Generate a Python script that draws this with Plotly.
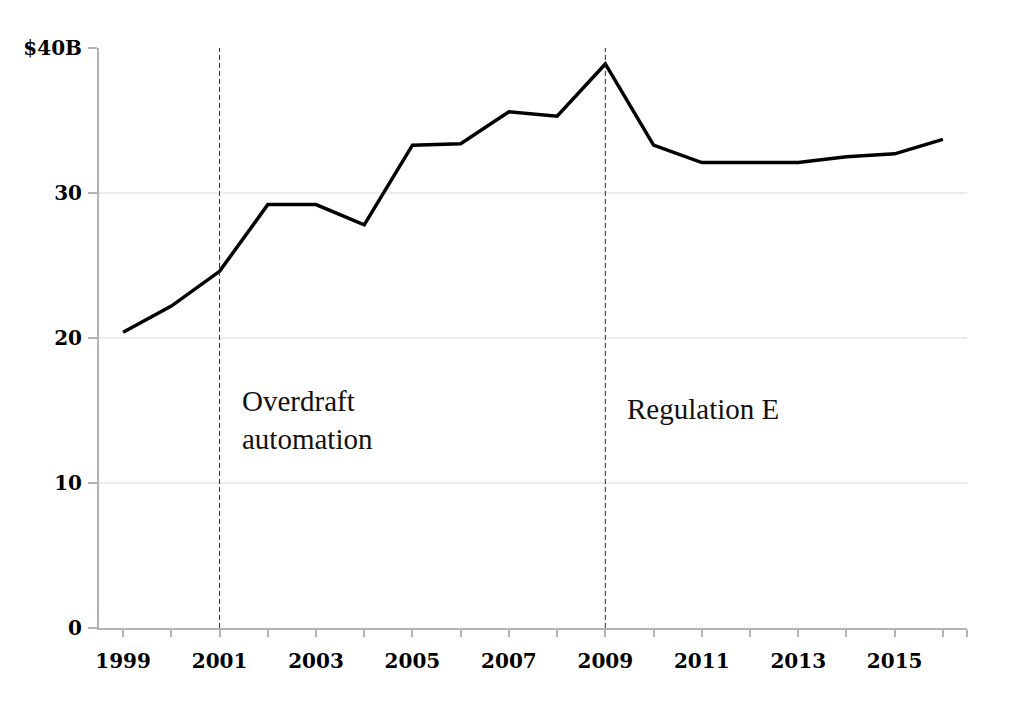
#overdraft revenue line chart
import plotly.graph_objects as go

years = [1999, 2000, 2001, 2002, 2003, 2004, 2005, 2006, 2007, 2008,
         2009, 2010, 2011, 2012, 2013, 2014, 2015, 2016]
revenue = [20.4, 22.2, 24.6, 29.2, 29.2, 27.8, 33.3, 33.4, 35.6, 35.3,
           38.9, 33.3, 32.1, 32.1, 32.1, 32.5, 32.7, 33.7]

y_ticks = [0, 10, 20, 30, 40]
y_labels = ["0", "10", "20", "30", "$40B"]
x_labels = [str(y) if y % 2 == 1 else "" for y in years]

events = [2001, 2009]
event_text = ["Overdraft<br>automation", "Regulation E"]

fig = go.Figure()
fig.add_trace(go.Scatter(x=years, y=revenue, mode='lines',
                         line=dict(color='black', width=3.5),
                         hoverinfo='skip', showlegend=False))

# dashed event markers and their labels (label heights in paper coords)
label_y = [0.422, 0.409]
for yr, txt, ly in zip(events, event_text, label_y):
    fig.add_shape(type='line', x0=yr, x1=yr, y0=0, y1=40, xref='x', yref='y',
                  line=dict(color='#2b2b2b', width=1, dash='5px,3px'))
    fig.add_annotation(x=yr, y=ly, xref='x', yref='paper', text=txt,
                       showarrow=False, xanchor='left', yanchor='top', align='left',
                       xshift=20,
                       font=dict(family='Liberation Serif', size=29, color='#111111'))

tick_font = dict(family='DejaVu Serif', size=20, color='black', weight='bold')

fig.update_layout(
    width=1024, height=721,
    margin=dict(l=91, r=65, t=40, b=101),
    plot_bgcolor='white', paper_bgcolor='white',
    xaxis=dict(range=[1998.5, 2016.5], tickvals=years + [2016.5],
               ticktext=x_labels + [""], ticks='outside', ticklen=7, tickwidth=2,
               tickcolor='#b3b3b3', showline=True, linecolor='#b3b3b3', linewidth=2,
               showgrid=False, zeroline=False, ticklabelstandoff=7,
               tickfont=tick_font),
    yaxis=dict(range=[0, 40], tickvals=y_ticks, ticktext=y_labels,
               ticks='outside', ticklen=9, tickwidth=2, tickcolor='#b3b3b3',
               showline=True, linecolor='#b3b3b3', linewidth=2,
               showgrid=True, gridcolor='#ececec', gridwidth=2, zeroline=False,
               ticklabelstandoff=2,
               tickfont=tick_font),
)

fig.write_html("out.html")
